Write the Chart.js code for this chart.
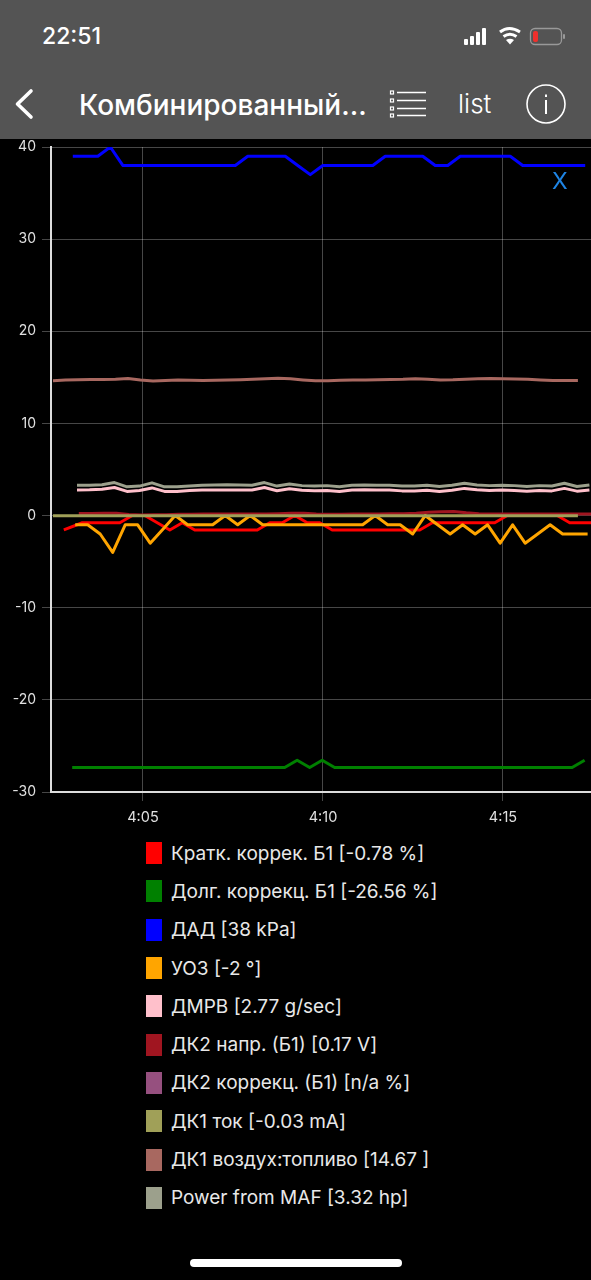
<!DOCTYPE html>
<html>
<head>
<meta charset="utf-8">
<title>Комбинированный</title>
<script src="https://cdn.jsdelivr.net/npm/chart.js@4"></script>
<style>
    html, body { margin: 0; padding: 0; background: #000; font-family: Inter, Roboto, sans-serif; color: #fff; }
    body { position: relative; width: 591px; height: 1280px; overflow: hidden; }
    .header { position: absolute; left: 0; top: 0; width: 591px; height: 139px; background: #545454; }
    .header > * { position: absolute; }
    .clock { left: 42px; top: 22px; font-size: 23px; font-weight: 500; line-height: 28px; }
    .title { left: 79px; top: 88px; font-size: 28px; font-weight: 500; line-height: 34px; white-space: nowrap; }
    .listWord { left: 458px; top: 87px; font-size: 26px; font-weight: 300; line-height: 34px; }
    #chart { position: absolute; left: 0; top: 139px; }
    .closeX { position: absolute; left: 552px; top: 168px; font-size: 23px; line-height: 26px; color: #1e84e4; }
    .legend { position: absolute; left: 146px; top: 834px; }
    .legendRow { display: flex; align-items: center; height: 38.3px; font-size: 19px; color: #e8e8e8; white-space: nowrap; }
    .legendBox { width: 16px; height: 22px; margin-right: 9px; }
    .homeBar { position: absolute; left: 190px; top: 1259px; width: 212px; height: 8px; border-radius: 4px; background: #fff; }
</style>
</head>
<body>
<div class="header">
    <div class="clock">22:51</div>
    <svg style="left:462px;top:26px" width="108" height="22" viewBox="0 0 108 22">
        <rect x="2" y="13" width="4" height="6" rx="1" fill="#fff"/>
        <rect x="8" y="10" width="4" height="9" rx="1" fill="#fff"/>
        <rect x="14" y="6" width="4" height="13" rx="1" fill="#fff"/>
        <rect x="20" y="2" width="4" height="17" rx="1" fill="#fff"/>
        <path d="M38 6 Q47 -1 58 6" fill="none" stroke="#fff" stroke-width="3"/>
        <path d="M41.5 10.5 Q48 6 54.5 10.5" fill="none" stroke="#fff" stroke-width="3"/>
        <path d="M44 14 L48 18.5 L52 14 Q48 11.5 44 14 Z" fill="#fff"/>
        <rect x="68.5" y="2.5" width="31" height="16" rx="4.5" fill="none" stroke="#999" stroke-width="1.3"/>
        <rect x="71" y="5" width="5" height="11" rx="2" fill="#f0302c"/>
        <rect x="101" y="8" width="2" height="5" rx="1" fill="#999"/>
    </svg>
    <svg style="left:12px;top:88px" width="24" height="32" viewBox="0 0 24 32">
        <path d="M19 3 L5.5 16 L19 29" fill="none" stroke="#fff" stroke-width="3.6" stroke-linecap="round" stroke-linejoin="round"/>
    </svg>
    <div class="title">Комбинированный...</div>
    <svg style="left:388px;top:88px" width="40" height="32" viewBox="0 0 40 32" stroke="#fff">
        <rect x="2.5" y="3" width="3" height="3" fill="none" stroke-width="1.2"/>
        <rect x="2.5" y="11" width="3" height="3" fill="none" stroke-width="1.2"/>
        <rect x="2.5" y="19" width="3" height="3" fill="none" stroke-width="1.2"/>
        <rect x="2.5" y="26" width="3" height="3" fill="none" stroke-width="1.2"/>
        <path d="M9 4.5 H38 M9 12.5 H38 M9 20.5 H38 M9 27.5 H38" stroke-width="1.6"/>
    </svg>
    <div class="listWord">list</div>
    <svg style="left:525px;top:83px" width="42" height="42" viewBox="0 0 42 42">
        <circle cx="21" cy="21" r="19" fill="none" stroke="#fff" stroke-width="1.6"/>
        <rect x="20" y="17" width="2" height="14" fill="#fff"/>
        <rect x="20" y="11.5" width="2" height="2.5" fill="#fff"/>
    </svg>
</div>

<canvas id="chart" width="591" height="690"></canvas>
<div class="closeX">X</div>
<div class="legend" id="legend"></div>
<div class="homeBar"></div>

<script>
// Series names and colours, same order as the legend
const seriesNames = [
    "Кратк. коррек. Б1 [-0.78 %]",
    "Долг. коррекц. Б1 [-26.56 %]",
    "ДАД [38 kPa]",
    "УОЗ [-2 °]",
    "ДМРВ [2.77 g/sec]",
    "ДК2 напр. (Б1) [0.17 V]",
    "ДК2 коррекц. (Б1) [n/a %]",
    "ДК1 ток [-0.03 mA]",
    "ДК1 воздух:топливо [14.67 ]",
    "Power from MAF [3.32 hp]"
]
const seriesColors = ["#ff0000", "#008000", "#0000ff", "#ffa500", "#ffc0cb", "#a01520", "#96507f", "#a0a058", "#a86860", "#9ca08c"]

// Values
const shortTrim = [-1.56, -0.78, -0.78, -0.78, -0.78, 0, 0, -0.78, -1.56, -0.78, -1.56, -1.56, -1.56, -1.56, -1.56, -1.56, -0.78, -0.78, 0, -0.78, -0.78, -1.56, -1.56, -1.56, -1.56, -1.56, -1.56, -1.56, -1.56, -0.78, -0.78, -0.78, -0.78, -0.78, -0.78, 0, 0, 0, 0, 0, -0.78, -0.78, -0.78]
const longTrim = [-27.34, -27.34, -27.34, -27.34, -27.34, -27.34, -27.34, -27.34, -27.34, -27.34, -27.34, -27.34, -27.34, -27.34, -27.34, -27.34, -27.34, -27.34, -26.56, -27.34, -26.56, -27.34, -27.34, -27.34, -27.34, -27.34, -27.34, -27.34, -27.34, -27.34, -27.34, -27.34, -27.34, -27.34, -27.34, -27.34, -27.34, -27.34, -27.34, -27.34, -27.34, -26.56]
const mapPressure = [39, 39, 39, 40, 38, 38, 38, 38, 38, 38, 38, 38, 38, 38, 39, 39, 39, 39, 38, 37, 38, 38, 38, 38, 38, 39, 39, 39, 39, 38, 38, 39, 39, 39, 39, 39, 38, 38, 38, 38, 38, 38]
const timingAdvance = [-1, -1, -2, -4, -1, -1, -3, -1.5, 0, -1, -1, -1, 0, -1, 0, -1, -1, -1, -1, -1, -1, -1, -1, -1, 0, -1, -1, -2, 0, -1, -2, -1, -2, -1, -3, -1, -3, -2, -1, -2, -2, -2]
const mafFlow = [2.78, 2.8, 2.85, 3.05, 2.62, 2.72, 3.0, 2.62, 2.62, 2.72, 2.78, 2.78, 2.78, 2.78, 2.78, 3.05, 2.7, 2.9, 2.75, 2.7, 2.72, 2.62, 2.78, 2.8, 2.78, 2.78, 2.68, 2.68, 2.75, 2.62, 2.75, 2.95, 2.8, 2.72, 2.78, 2.72, 2.65, 2.72, 2.68, 2.95, 2.65, 2.77]
const o2Voltage = [0.22, 0.22, 0.25, 0.25, 0.12, 0.05, 0.1, 0.1, 0.15, 0.15, 0.17, 0.17, 0.17, 0.17, 0.17, 0.17, 0.2, 0.25, 0.25, 0.17, 0.15, 0.15, 0.17, 0.17, 0.17, 0.2, 0.2, 0.25, 0.35, 0.42, 0.45, 0.3, 0.2, 0.17, 0.17, 0.17, 0.17, 0.17, 0.17, 0.17, 0.17, 0.17]
const o2Trim = []
const o2Current = [-0.03, -0.03, -0.03, -0.03, -0.03, -0.03, -0.03, -0.03, -0.03, -0.03, -0.03, -0.03, -0.03, -0.03, -0.03, -0.03, -0.03, -0.03, -0.03, -0.03, -0.03, -0.03, -0.03, -0.03, -0.03, -0.03, -0.03, -0.03, -0.03, -0.03, -0.03, -0.03, -0.03, -0.03, -0.03, -0.03, -0.03, -0.03, -0.03, -0.03, -0.03, -0.03, -0.03]
const airFuel = [14.62, 14.7, 14.75, 14.78, 14.78, 14.8, 14.88, 14.72, 14.6, 14.65, 14.7, 14.68, 14.66, 14.68, 14.72, 14.75, 14.8, 14.85, 14.9, 14.85, 14.72, 14.62, 14.62, 14.68, 14.72, 14.72, 14.75, 14.78, 14.8, 14.86, 14.8, 14.72, 14.74, 14.8, 14.85, 14.88, 14.85, 14.82, 14.8, 14.72, 14.65, 14.65, 14.67]
const powerMaf = [3.3, 3.3, 3.35, 3.58, 3.12, 3.2, 3.55, 3.12, 3.12, 3.22, 3.3, 3.32, 3.35, 3.32, 3.3, 3.58, 3.2, 3.42, 3.25, 3.2, 3.25, 3.12, 3.3, 3.32, 3.3, 3.3, 3.2, 3.2, 3.28, 3.15, 3.28, 3.5, 3.32, 3.25, 3.3, 3.25, 3.15, 3.25, 3.2, 3.5, 3.15, 3.32]

const seriesValues = [shortTrim, longTrim, mapPressure, timingAdvance, mafFlow, o2Voltage, o2Trim, o2Current, airFuel, powerMaf]

// Time of each series' first sample, seconds from 0:00. Every sensor is polled in turn so they are a bit apart
const seriesStarts = [14578, 14582, 14583, 14587, 14590, 14593, 14590, 14550, 14550, 14590]
const sampleStep = 20.83
const shortTrimLeadIn = 14568 // first short trim sample came a bit earlier than the regular step

const timeTicks = [14700, 15000, 15300] // 4:05, 4:10, 4:15
const axisTimeMin = 14546.67
const axisTimeMax = 15446.67
const valueMin = -30
const valueMax = 40


function buildPoints(values, start) {
    return values.map((v, i) => ({ x: start + i * sampleStep, y: v }))
}

function formatTime(seconds) {
    const hours = Math.floor(seconds / 3600)
    const minutes = Math.round((seconds - hours * 3600) / 60)
    return hours + ":" + String(minutes).padStart(2, "0")
}

const datasets = seriesNames.map((name, i) => {
    const points = buildPoints(seriesValues[i], seriesStarts[i])
    if (i === 0) points[0].x = shortTrimLeadIn
    return {
        label: name,
        data: points,
        order: -i, // later series sit on top
        borderColor: seriesColors[i],
        backgroundColor: seriesColors[i],
        borderWidth: 3,
        borderJoinStyle: "round",
        pointRadius: 0,
        tension: 0,
        fill: false
    }
})

const gridColor = "rgba(255, 255, 255, 0.28)"

new Chart(document.getElementById("chart"), {
    type: "line",
    data: { datasets: datasets },
    options: {
        responsive: false,
        animation: false,
        parsing: false,
        plugins: {
            legend: { display: false },
            tooltip: { enabled: false }
        },
        scales: {
            x: {
                type: "linear",
                min: axisTimeMin,
                max: axisTimeMax,
                afterBuildTicks: scale => { scale.ticks = timeTicks.map(v => ({ value: v })) },
                afterFit: scale => { scale.height = 37 },
                grid: { color: gridColor, tickColor: gridColor, tickLength: 9 },
                border: { color: "#dddddd", width: 2 },
                ticks: {
                    maxRotation: 0,
                    color: "#e0e0e0",
                    padding: 8,
                    font: { family: "Inter", size: 14.5 },
                    callback: value => formatTime(value)
                }
            },
            y: {
                min: valueMin,
                max: valueMax,
                afterFit: scale => {
                    scale.width = 51
                    scale.paddingTop = 8
                    scale.paddingBottom = 0
                },
                grid: { color: gridColor, tickColor: gridColor, tickLength: 9 },
                border: { color: "#dddddd", width: 2 },
                ticks: {
                    stepSize: 10,
                    color: "#e0e0e0",
                    padding: 6,
                    font: { family: "Inter", size: 14 }
                }
            }
        }
    }
})

// Legend is a plain list under the chart
const legendDiv = document.getElementById("legend")
seriesNames.forEach((name, i) => {
    const row = document.createElement("div")
    row.className = "legendRow"
    const box = document.createElement("div")
    box.className = "legendBox"
    box.style.background = seriesColors[i]
    const text = document.createElement("span")
    text.textContent = name
    row.appendChild(box)
    row.appendChild(text)
    legendDiv.appendChild(row)
})
</script>
</body>
</html>
